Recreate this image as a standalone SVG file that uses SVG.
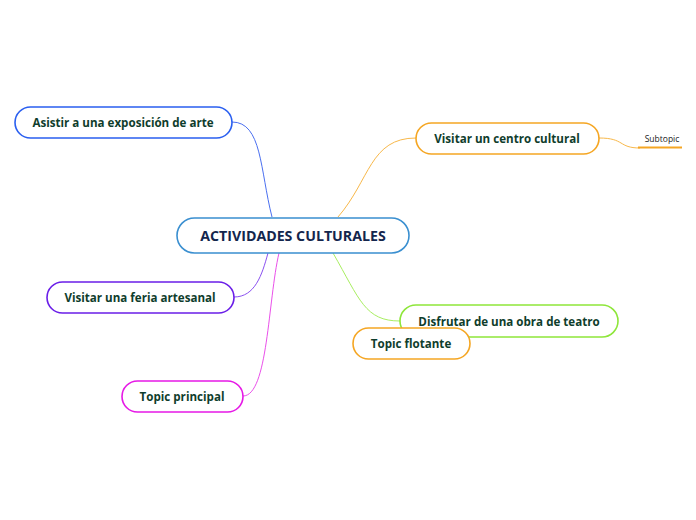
<svg xmlns="http://www.w3.org/2000/svg" width="696" height="520" viewBox="0 0 696 520">
<style>
.n{fill:#fff;stroke-width:1.6}
.t{font-family:"Open Sans","Noto Sans",sans-serif;font-weight:bold;font-size:11.6px;fill:#0f3d2c;text-anchor:middle}
.c{fill:none;stroke-width:1}
</style>
<rect width="696" height="520" fill="#fff"/>
<g id="connectors">
<path class="c" stroke="#4a6ff0" d="M232,122 C262,122 260,170 272,217"/>
<path class="c" stroke="#f8b84a" d="M338,217 C370,180 370,138 416,138"/>
<path class="c" stroke="#f8b84a" d="M599,138 C625,138 618,148 640,148"/>
<path class="c" stroke="#8a50f0" d="M268,253 C262,275 255,297 234,297"/>
<path class="c" stroke="#ea50ea" d="M279,253 C268,300 268,396 243,396"/>
<path class="c" stroke="#a8ee60" d="M333,253 C360,300 365,321 400,321"/>
</g>
<g id="central">
<rect class="n" x="177" y="218" width="232" height="35" rx="17.5" stroke="#3a8fd0"/>
<text x="293" y="241" style="font-family:'Open Sans','Noto Sans',sans-serif;font-weight:bold;font-size:14.2px;fill:#14264d;text-anchor:middle">ACTIVIDADES CULTURALES</text>
</g>
<g id="n1">
<rect class="n" x="15" y="107" width="217" height="31" rx="15.5" stroke="#2a5ff0"/>
<text class="t" x="123" y="127">Asistir a una exposición de arte</text>
</g>
<g id="n2">
<rect class="n" x="416" y="123" width="183" height="31" rx="15.5" stroke="#f5a623"/>
<text class="t" x="507" y="143">Visitar un centro cultural</text>
</g>
<g id="sub">
<text x="662" y="142" style="font-family:'Open Sans','Noto Sans',sans-serif;font-size:8.5px;fill:#222;text-anchor:middle">Subtopic</text>
<line x1="638" y1="147.5" x2="682" y2="147.5" stroke="#f5a623" stroke-width="2"/>
</g>
<g id="n3">
<rect class="n" x="47" y="282" width="187" height="31" rx="15.5" stroke="#6a1ee8"/>
<text class="t" x="140" y="302">Visitar una feria artesanal</text>
</g>
<g id="n4">
<rect class="n" x="400" y="305" width="218" height="32" rx="16" stroke="#8ee63a"/>
<text class="t" x="509" y="326">Disfrutar de una obra de teatro</text>
</g>
<g id="n5">
<rect class="n" x="353" y="328" width="117" height="31" rx="15.5" stroke="#f5a623"/>
<text class="t" x="411" y="348">Topic flotante</text>
</g>
<g id="n6">
<rect class="n" x="122" y="381" width="121" height="31" rx="15.5" stroke="#e619e6"/>
<text class="t" x="182" y="401">Topic principal</text>
</g>
</svg>
